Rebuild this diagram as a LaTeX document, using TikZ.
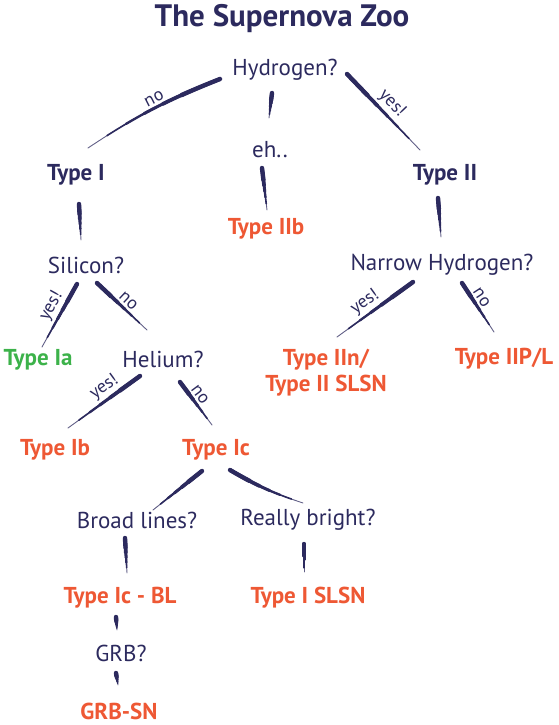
\documentclass[tikz,border=0pt]{standalone}
\usepackage{fontspec}
\setmainfont{PT Sans}
\usetikzlibrary{calc}
\definecolor{navy}{RGB}{44,42,94}
\definecolor{snorange}{RGB}{238,88,52}
\definecolor{sngreen}{RGB}{60,178,74}
\newcommand\brushstroke[3][]{%
  \path let \p1=(#2), \p2=(#3) in \pgfextra{\pgfmathsetmacro\brL{veclen(\x2-\x1,\y2-\y1)}\global\let\brLen\brL};
  \draw[brushline,line width=0.9pt,opacity=0.75,#1] (#2) to (#3);
  \foreach \brw/\brf in {1.6/0.85,2.3/0.7,3/0.56,3.7/0.42,4.4/0.28}{%
    \pgfmathsetmacro\brD{\brf*\brLen}%
    \draw[brushline,line width=\brw pt,dash pattern=on \brD pt off 3000pt,#1] (#2) to (#3);
  }%
}
\begin{document}
\begin{tikzpicture}[x=1pt,y=-1pt,
  brushline/.style={draw=navy,line cap=round},
  titletext/.style={text=navy,font=\fontsize{31}{34}\selectfont\bfseries,inner sep=0pt},
  q/.style={text=navy,font=\fontsize{23}{26}\selectfont,inner sep=0pt},
  tn/.style={text=navy,font=\fontsize{23}{26}\selectfont\bfseries,inner sep=0pt},
  tr/.style={tn,text=snorange,align=center},
  tg/.style={tn,text=sngreen},
  lbl/.style={text=navy,font=\fontsize{18}{21}\selectfont,inner sep=0pt,sloped,above=3.5pt}]
\useasboundingbox (0,0) rectangle (558,725);
% nodes
\node[titletext] (title) at (282,19) {The Supernova Zoo};
\node[q] (hyd) at (285,70) {Hydrogen?};
\node[tn] (t1) at (76,175) {Type I};
\node[q] (eh) at (270,150) {eh..};
\node[tn] (t2) at (445,175) {Type II};
\node[tr] (t2b) at (266,229) {Type IIb};
\node[q] (sil) at (86,265) {Silicon?};
\node[q] (nh) at (442,265) {Narrow Hydrogen?};
\node[tg] (t1a) at (38,360) {Type Ia};
\node[q] (hel) at (163,359) {Helium?};
\node[tr] (t2n) at (326,373) {Type IIn/\\Type II SLSN};
\node[tr] (t2p) at (504,359) {Type IIP/L};
\node[tr] (t1b) at (55,450) {Type Ib};
\node[tr] (t1c) at (216,450) {Type Ic};
\node[q] (broad) at (137,520) {Broad lines?};
\node[q] (bright) at (308,520) {Really bright?};
\node[tr] (icbl) at (120,598) {Type Ic - BL};
\node[tr] (slsn) at (308,598) {Type I SLSN};
\node[q] (grb) at (121,653) {GRB?};
\node[tr] (grbsn) at (119,711) {GRB-SN};
% connectors
\brushstroke[bend right=6]{$(hyd)+(-65,9)$}{$(t1)+(12,-27)$}
\path[bend right=6] ($(hyd)+(-65,9)$) to node[lbl,pos=0.45] {no} ($(t1)+(12,-27)$);
\brushstroke{$(hyd)+(-13,23)$}{$(eh)+(-1,-32)$}
\brushstroke{$(eh)+(-8,18)$}{$(t2b)+(1,-19)$}
\brushstroke{$(hyd)+(62,4)$}{$(t2)+(-25,-25)$}
\path ($(hyd)+(62,4)$) to node[lbl,pos=0.5] {yes!} ($(t2)+(-25,-25)$);
\brushstroke{$(t1)+(3,29)$}{$(sil)+(-5,-25)$}
\brushstroke{$(t2)+(-7,23)$}{$(nh)+(-1,-28)$}
\brushstroke{$(sil)+(-9,19)$}{$(t1a)+(4,-13)$}
\path ($(sil)+(-9,19)$) to node[lbl,pos=0.44] {yes!} ($(t1a)+(4,-13)$);
\brushstroke{$(sil)+(11,18)$}{$(hel)+(-16,-29)$}
\path ($(sil)+(11,18)$) to node[lbl,pos=0.51] {no} ($(hel)+(-16,-29)$);
\brushstroke{$(nh)+(-29,17)$}{$(t2n)+(11,-36)$}
\path ($(nh)+(-29,17)$) to node[lbl,pos=0.54] {yes!} ($(t2n)+(11,-36)$);
\brushstroke{$(nh)+(20,18)$}{$(t2p)+(-10,-27)$}
\path ($(nh)+(20,18)$) to node[lbl,pos=0.39] {no} ($(t2p)+(-10,-27)$);
\brushstroke{$(hel)+(-23,17)$}{$(t1b)+(13,-22)$}
\path ($(hel)+(-23,17)$) to node[lbl,pos=0.4] {yes!} ($(t1b)+(13,-22)$);
\brushstroke{$(hel)+(17,23)$}{$(t1c)+(-4,-25)$}
\path ($(hel)+(17,23)$) to node[lbl,pos=0.41] {no} ($(t1c)+(-4,-25)$);
\brushstroke{$(t1c)+(-14,21)$}{$(broad)+(16,-10)$}
\brushstroke[bend right=6]{$(t1c)+(14,20)$}{$(bright)+(-5,-17)$}
\brushstroke{$(broad)+(-12,18)$}{$(icbl)+(7,-25)$}
\brushstroke{$(bright)+(-4,24)$}{$(slsn)+(-4,-26)$}
\brushstroke{$(icbl)+(-4,19)$}{$(grb)+(-4,-23)$}
\brushstroke{$(grb)+(-5,20)$}{$(grbsn)+(-1,-26)$}
\end{tikzpicture}
\end{document}
